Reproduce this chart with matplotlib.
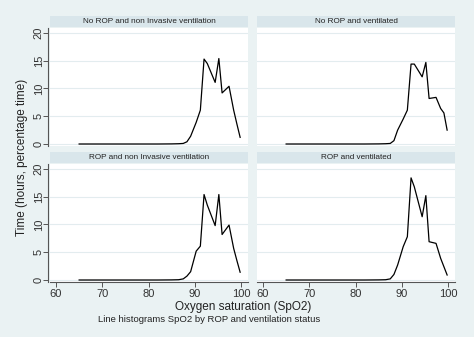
import matplotlib
matplotlib.use("Agg")
import matplotlib.pyplot as plt
from matplotlib.patches import Rectangle

plt.rcParams['font.family'] = ['Liberation Sans', 'DejaVu Sans']

# SpO2 bin positions shared by all panels
spo2 = [65, 75, 82, 85, 86.5, 87.5, 88.3, 89.1, 90.3, 91.2, 92.0, 92.7,
        94.4, 95.2, 95.9, 97.4, 98.4, 99.1, 99.8]

# Time (hours, percentage time) per group
no_rop_niv = [0, 0, 0, 0.02, 0.05, 0.1, 0.4, 1.4, 3.9, 6.1, 15.3, 14.5,
              11.1, 15.4, 9.2, 10.4, 6.1, 3.6, 1.2]
no_rop_vent = [0, 0, 0, 0.02, 0.05, 0.1, 0.6, 2.5, 4.5, 6.1, 14.4, 14.4,
               12.1, 14.7, 8.2, 8.4, 6.4, 5.6, 2.5]
rop_niv = [0, 0, 0, 0.02, 0.05, 0.2, 0.7, 1.5, 5.2, 6.1, 15.4, 13.5,
           9.8, 15.4, 8.2, 9.9, 5.7, 3.5, 1.4]
rop_vent = [0, 0, 0, 0.02, 0.05, 0.2, 1.0, 2.7, 6.0, 7.8, 18.4, 16.8,
            11.4, 15.2, 6.9, 6.6, 3.9, 2.4, 0.9]

titles = ["No ROP and non Invasive ventilation", "No ROP and ventilated",
          "ROP and non Invasive ventilation", "ROP and ventilated"]
series = [no_rop_niv, no_rop_vent, rop_niv, rop_vent]
xticks = [60, 70, 80, 90, 100]
yticks = [0, 5, 10, 15, 20]

W, H = 474, 344
BG = "#eaf2f3"
STRIP = "#d9e6eb"
GRID = "#e3ecef"
AX = "#555555"

fig = plt.figure(figsize=(W / 100, H / 100), dpi=100)
fig.patch.set_facecolor("white")
fig.add_artist(Rectangle((0, 7 / H), 1, 1 - 7 / H, transform=fig.transFigure,
                         facecolor=BG, edgecolor="none", zorder=-10))

lefts = [50, 257]
tops = [28, 164]
pw, ph = 198, 117.5
strip_h = 11

for i, (title, vals) in enumerate(zip(titles, series)):
    r, c = divmod(i, 2)
    x0 = lefts[c]
    y0 = tops[r]
    ax = fig.add_axes([x0 / W, 1 - (y0 + ph) / H, pw / W, ph / H])
    ax.set_facecolor("white")
    ax.set_xlim(58.7, 101.5)
    ax.set_ylim(-0.27, 20.9)
    for y in yticks:
        ax.axhline(y, color=GRID, lw=0.8, zorder=0)
    ax.plot(spo2, vals, color="black", lw=0.9, zorder=3)
    for s in ax.spines.values():
        s.set_visible(False)
    ax.set_xticks(xticks)
    ax.set_yticks(yticks)
    ax.tick_params(colors=AX, labelcolor="#333333", labelsize=8,
                   length=3.5, width=0.7)
    if c == 0:
        ax.spines['left'].set_visible(True)
        ax.spines['left'].set_color(AX)
        ax.spines['left'].set_linewidth(0.8)
        ax.spines['left'].set_position(('outward', 1.5))
        ax.tick_params(axis='y', pad=3)
        for lab in ax.get_yticklabels():
            lab.set_rotation(90)
            lab.set_ha('center')
            lab.set_va('center')
    else:
        ax.tick_params(axis='y', left=False, labelleft=False)
    if r == 1:
        ax.spines['bottom'].set_visible(True)
        ax.spines['bottom'].set_color(AX)
        ax.spines['bottom'].set_linewidth(0.8)
        ax.tick_params(axis='x', pad=2)
    else:
        ax.tick_params(axis='x', bottom=False, labelbottom=False)
    # strip title
    fig.add_artist(Rectangle((x0 / W, 1 - (y0 - 1) / H), pw / W, strip_h / H,
                             transform=fig.transFigure, facecolor=STRIP,
                             edgecolor="none"))
    fig.text((x0 + pw / 2) / W, 1 - (y0 - 1 - strip_h / 2) / H, title,
             ha="center", va="center", fontsize=5.9, color="#222222")

fig.text(22 / W, 1 - 157 / H, "Time (hours, percentage time)", rotation=90,
         ha="center", va="center", fontsize=8.5, color="#222222")
fig.text(243 / W, 1 - 307 / H, "Oxygen saturation (SpO2)",
         ha="center", va="center", fontsize=8.5, color="#222222")
fig.text(98 / W, 1 - 320 / H, "Line histograms SpO2 by ROP and ventilation status",
         ha="left", va="center", fontsize=6.8, color="#222222")

fig.savefig("out.png", dpi=100, facecolor=fig.get_facecolor())
